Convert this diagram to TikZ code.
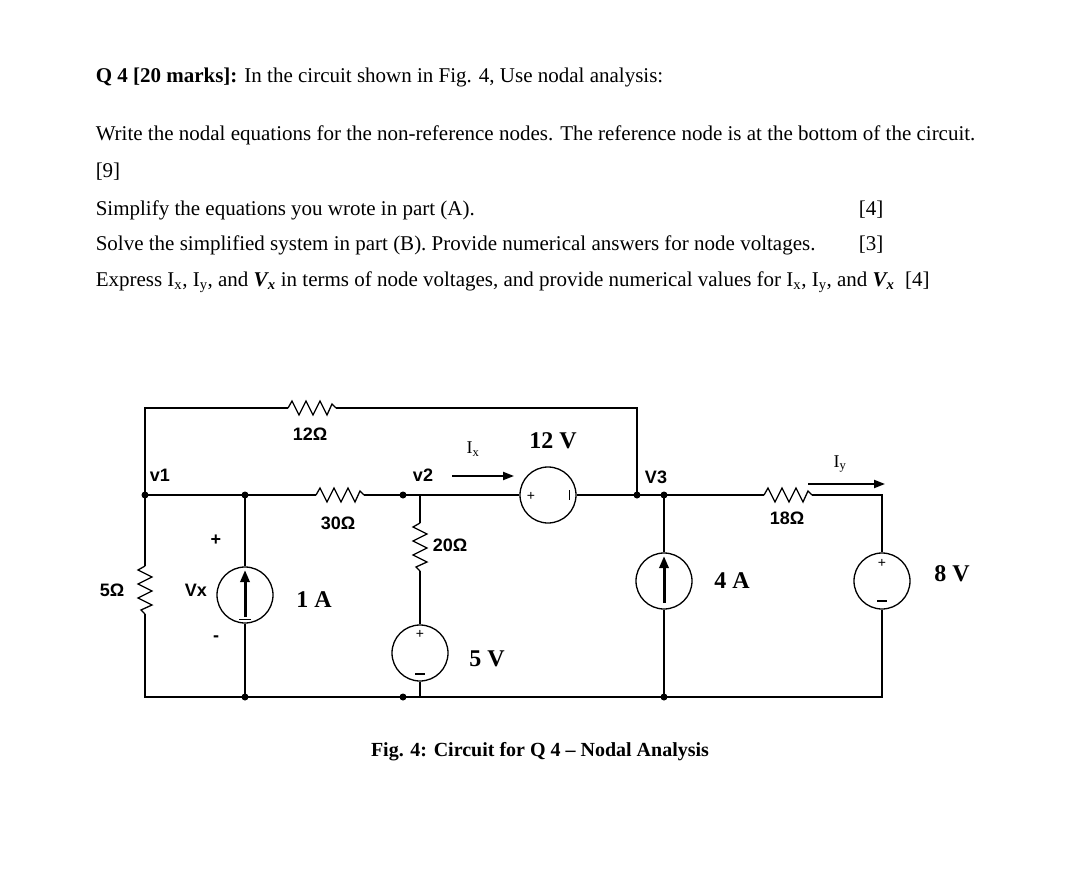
\documentclass[tikz,border=0pt]{standalone}
\usepackage{fontspec}
\usetikzlibrary{arrows.meta}
\setmainfont{Liberation Serif}
\newfontfamily\arial{Liberation Sans}
\begin{document}
\begin{tikzpicture}[x=1pt,y=-1pt,line width=1.5pt,
  txt/.style={anchor=west,inner sep=0pt,font=\fontsize{21}{21}\selectfont},
  lab/.style={inner sep=0pt,font=\arial\bfseries\fontsize{18}{18}\selectfont},
  sl/.style={inner sep=0pt,font=\bfseries\fontsize{24}{24}\selectfont},
  src/.style={circle,draw,minimum size=56pt,inner sep=0pt,line width=1.3pt},
  dot/.style={circle,fill,inner sep=0pt,minimum size=7pt},
  hres/.pic={\draw[line width=1.3pt] (-24,0) -- (-20,-7) -- (-13,7) -- (-6,-7) -- (1,7) -- (8,-7) -- (15,7) -- (20,-4) -- (24,0);},
  vres/.pic={\draw[line width=1.3pt] (0,-24) -- (-7,-20) -- (7,-13) -- (-7,-6) -- (7,1) -- (-7,8) -- (7,15) -- (-4,20) -- (0,24);}]
\useasboundingbox (0,0) rectangle (1080,881);
\fill[white] (0,0) rectangle (1080,881);
% text
\node[txt] (q) at (95,77) {\textbf{Q 4 [20 marks]:} In the circuit shown in Fig. 4, Use nodal analysis:};
\node[txt] (t1) at (95,135) {Write the nodal equations for the non-reference nodes. The reference node is at the bottom of the circuit.};
\node[txt] (t2) at (95,172) {[9]};
\node[txt] (t3) at (95,210) {Simplify the equations you wrote in part (A).};
\node[txt] (t3b) at (858,210) {[4]};
\node[txt] (t4) at (95,245) {Solve the simplified system in part (B). Provide numerical answers for node voltages.};
\node[txt] (t4b) at (858,245) {[3]};
\node[txt] (t5) at (95,282) {Express I\textsubscript{x}, I\textsubscript{y}, and \textbf{\textit{V\textsubscript{x}}} in terms of node voltages, and provide numerical values for I\textsubscript{x}, I\textsubscript{y}, and \textbf{\textit{V\textsubscript{x}}}\enspace [4]};
\node[inner sep=0pt,font=\bfseries\fontsize{20}{20}\selectfont] (cap) at (540,752) {Fig. 4: Circuit for Q 4 -- Nodal Analysis};
% coordinates
\coordinate (tl) at (145,408); \coordinate (tr) at (637,408);
\coordinate (v1) at (145,495); \coordinate (a) at (245,495); \coordinate (v2) at (403,495);
\coordinate (b) at (420,495); \coordinate (c) at (637,495); \coordinate (v3) at (664,495);
\coordinate (r) at (882,495);
\coordinate (bl) at (145,697); \coordinate (ba) at (245,697); \coordinate (bb) at (403,697);
\coordinate (bc) at (420,697); \coordinate (b3) at (664,697); \coordinate (br) at (882,697);
% sources
\node[src] (s12) at (548,495) {};
\node[src] (s1) at (245,595) {};
\node[src] (s5) at (420,653) {};
\node[src] (s4) at (664,581) {};
\node[src] (s8) at (882,581) {};
% resistors
\pic at (312,408) {hres}; \pic at (340,495) {hres}; \pic at (788,495) {hres};
\pic at (145,590) {vres}; \pic at (420,547) {vres};
% wires
\draw (v1) -- (tl) -- (288,408); \draw (336,408) -- (tr) -- (c);
\draw (v1) -- (316,495); \draw (364,495) -- (s12.west);
\draw (s12.east) -- (764,495); \draw (812,495) -- (r) -- (s8.north);
\draw (s8.south) -- (br) -- (bl) -- (145,614);
\draw (v1) -- (145,566);
\draw (a) -- (s1.north); \draw (s1.south) -- (ba);
\draw (b) -- (420,523); \draw (420,571) -- (s5.north); \draw (s5.south) -- (bc);
\draw (v3) -- (s4.north); \draw (s4.south) -- (b3);
\foreach \p in {v1,a,v2,c,v3,ba,bb,b3} \node[dot] at (\p) {};
% source symbols
\draw[-{Triangle[length=12pt,width=9pt]},line width=3pt] (245,617) -- (245,570);
\draw[line width=1pt] (239,619) -- (251,619);
\draw[-{Triangle[length=12pt,width=9pt]},line width=3pt] (664,603) -- (664,556);
\node[font=\arial\fontsize{14}{14}\selectfont] (p12) at (531,496) {+};
\draw[line width=1pt] (569,490) -- (569,500);
\node[font=\arial\fontsize{14}{14}\selectfont] (p5) at (420,634) {+};
\draw[line width=1.2pt] (415,674) -- (425,674);
\node[font=\arial\fontsize{14}{14}\selectfont] (p8) at (882,563) {+};
\draw[line width=1.2pt] (877,601) -- (887,601);
% labels
\node[lab] (lv1) at (160,475) {v1};
\node[lab] (lv2) at (423,475) {v2};
\node[lab] (lv3) at (656,477) {V3};
\node[lab] (l12) at (310,434) {12Ω};
\node[lab] (l30) at (338,523) {30Ω};
\node[lab] (l20) at (450,545) {20Ω};
\node[lab] (l18) at (787,518) {18Ω};
\node[lab] (l5) at (112,590) {5Ω};
\node[lab] (lvx) at (196,590) {Vx};
\node[lab] (lp) at (216,540) {+};
\node[lab] (lm) at (216,639) {-};
\node[sl] (l1a) at (314,600) {1 A};
\node[sl] (l5v) at (487,659) {5 V};
\node[sl] (l4a) at (732,581) {4 A};
\node[sl] (l8v) at (952,574) {8 V};
\node[sl] (l12v) at (553,441) {12 V};
\node[inner sep=0pt,font=\fontsize{18}{18}\selectfont] (lix) at (473,449) {I\textsubscript{x}};
\node[inner sep=0pt,font=\fontsize{18}{18}\selectfont] (liy) at (840,464) {I\textsubscript{y}};
\coordinate (ix1) at (452,476); \coordinate (ix2) at (514,476);
\coordinate (iy1) at (808,484); \coordinate (iy2) at (885,484);
\draw[-{Triangle[length=11pt,width=8pt]},line width=2pt] (ix1) -- (ix2);
\draw[-{Triangle[length=11pt,width=8pt]},line width=2pt] (iy1) -- (iy2);
\end{tikzpicture}
\end{document}
